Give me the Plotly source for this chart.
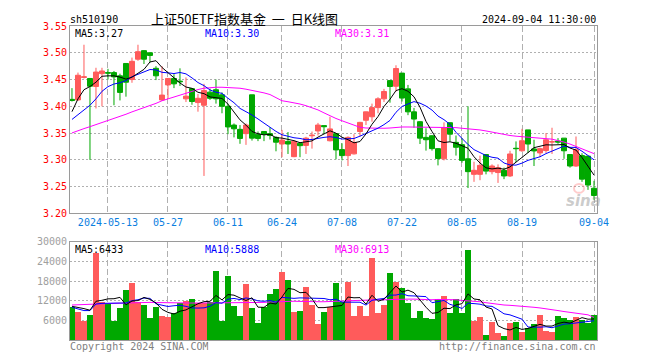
import plotly.graph_objects as go

dates = [
    "2024-04-30",
    "2024-05-06", "2024-05-07", "2024-05-08", "2024-05-09", "2024-05-10",
    "2024-05-13", "2024-05-14", "2024-05-15", "2024-05-16", "2024-05-17",
    "2024-05-20", "2024-05-21", "2024-05-22", "2024-05-23", "2024-05-24",
    "2024-05-27", "2024-05-28", "2024-05-29", "2024-05-30", "2024-05-31",
    "2024-06-03", "2024-06-04", "2024-06-05", "2024-06-06", "2024-06-07",
    "2024-06-11", "2024-06-12", "2024-06-13", "2024-06-14",
    "2024-06-17", "2024-06-18", "2024-06-19", "2024-06-20", "2024-06-21",
    "2024-06-24", "2024-06-25", "2024-06-26", "2024-06-27", "2024-06-28",
    "2024-07-01", "2024-07-02", "2024-07-03", "2024-07-04", "2024-07-05",
    "2024-07-08", "2024-07-09", "2024-07-10", "2024-07-11", "2024-07-12",
    "2024-07-15", "2024-07-16", "2024-07-17", "2024-07-18", "2024-07-19",
    "2024-07-22", "2024-07-23", "2024-07-24", "2024-07-25", "2024-07-26",
    "2024-07-29", "2024-07-30", "2024-07-31", "2024-08-01", "2024-08-02",
    "2024-08-05", "2024-08-06", "2024-08-07", "2024-08-08", "2024-08-09",
    "2024-08-12", "2024-08-13", "2024-08-14", "2024-08-15", "2024-08-16",
    "2024-08-19", "2024-08-20", "2024-08-21", "2024-08-22", "2024-08-23",
    "2024-08-26", "2024-08-27", "2024-08-28", "2024-08-29", "2024-08-30",
    "2024-09-02", "2024-09-03", "2024-09-04",
]

opens = [
    3.413, 3.412, 3.454, 3.452, 3.437, 3.461, 3.463, 3.463, 3.457, 3.480,
    3.450, 3.488, 3.504, 3.500, 3.471, 3.412, 3.440, 3.452, 3.447, 3.414,
    3.433, 3.407, 3.402, 3.4265, 3.431, 3.4215, 3.400, 3.365, 3.357, 3.349,
    3.4215, 3.348, 3.353, 3.349, 3.342, 3.3296, 3.3345, 3.306, 3.331, 3.327,
    3.345, 3.354, 3.364, 3.3357, 3.349, 3.3192, 3.308, 3.3112, 3.353, 3.374,
    3.3805, 3.3976, 3.414, 3.448, 3.4375, 3.462, 3.4326, 3.3897, 3.3713, 3.342,
    3.345, 3.321, 3.302, 3.3694, 3.3327, 3.3284, 3.302, 3.273, 3.273, 3.310,
    3.278, 3.2763, 3.2805, 3.270, 3.3217, 3.317, 3.356, 3.3204, 3.313, 3.3174,
    3.3333, 3.335, 3.3406, 3.310, 3.2885, 3.308, 3.307, 3.247,
]
highs = [
    3.434, 3.463, 3.515, 3.453, 3.472, 3.472, 3.470, 3.466, 3.461, 3.480,
    3.491, 3.515, 3.505, 3.501, 3.475, 3.475, 3.453, 3.460, 3.471, 3.454,
    3.433, 3.423, 3.442, 3.433, 3.450, 3.426, 3.405, 3.368, 3.365, 3.368,
    3.4215, 3.353, 3.353, 3.361, 3.344, 3.356, 3.352, 3.336, 3.331, 3.343,
    3.353, 3.369, 3.364, 3.3805, 3.349, 3.331, 3.344, 3.348, 3.371, 3.390,
    3.405, 3.417, 3.4326, 3.449, 3.4767, 3.462, 3.440, 3.397, 3.372, 3.359,
    3.346, 3.322, 3.370, 3.370, 3.3455, 3.3406, 3.400, 3.2965, 3.308, 3.311,
    3.2916, 3.2916, 3.2855, 3.317, 3.3345, 3.358, 3.356, 3.3376, 3.323, 3.350,
    3.360, 3.3406, 3.3406, 3.310, 3.3437, 3.3125, 3.307, 3.2609,
]
lows = [
    3.409, 3.410, 3.452, 3.300, 3.396, 3.400, 3.450, 3.402, 3.411, 3.418,
    3.444, 3.485, 3.479, 3.482, 3.449, 3.410, 3.414, 3.434, 3.438, 3.408,
    3.403, 3.390, 3.270, 3.412, 3.405, 3.387, 3.348, 3.342, 3.330, 3.328,
    3.336, 3.335, 3.335, 3.338, 3.316, 3.305, 3.311, 3.305, 3.305, 3.311,
    3.321, 3.3455, 3.348, 3.3345, 3.301, 3.299, 3.2885, 3.310, 3.3437, 3.365,
    3.3713, 3.387, 3.408, 3.4068, 3.4277, 3.409, 3.3835, 3.360, 3.3296, 3.3173,
    3.3173, 3.2897, 3.299, 3.3345, 3.308, 3.2947, 3.2474, 3.259, 3.262, 3.273,
    3.273, 3.257, 3.264, 3.268, 3.296, 3.315, 3.313, 3.2885, 3.305, 3.313,
    3.311, 3.330, 3.302, 3.2855, 3.287, 3.259, 3.244, 3.2254,
]
closes = [
    3.411, 3.458, 3.455, 3.4375, 3.464, 3.466, 3.462, 3.455, 3.426, 3.445,
    3.484, 3.502, 3.488, 3.495, 3.457, 3.421, 3.452, 3.442, 3.446, 3.419,
    3.409, 3.415, 3.4295, 3.415, 3.414, 3.400, 3.3615, 3.358, 3.340, 3.365,
    3.3406, 3.340, 3.348, 3.3455, 3.333, 3.337, 3.3296, 3.3345, 3.3265, 3.3406,
    3.346, 3.365, 3.362, 3.3578, 3.3186, 3.308, 3.342, 3.3327, 3.370, 3.3897,
    3.3976, 3.414, 3.4277, 3.437, 3.4706, 3.4154, 3.3897, 3.3762, 3.3406, 3.3376,
    3.321, 3.3026, 3.360, 3.348, 3.3235, 3.299, 3.278, 3.2805, 3.2897, 3.279,
    3.2885, 3.2855, 3.270, 3.311, 3.321, 3.3357, 3.3296, 3.3167, 3.321, 3.3376,
    3.3339, 3.3333, 3.317, 3.2885, 3.319, 3.264, 3.253, 3.2335,
]

ma5 = [
    3.390, 3.414, 3.431, 3.437, 3.4451, 3.4561, 3.4569, 3.4569, 3.4546, 3.4508,
    3.4544, 3.4624, 3.469, 3.4828, 3.4852, 3.4726, 3.4626, 3.4534, 3.4436, 3.436,
    3.4336, 3.4262, 3.4237, 3.4175, 3.4165, 3.4147, 3.404, 3.3897, 3.3747, 3.3649,
    3.353, 3.3487, 3.3467, 3.3478, 3.3414, 3.3407, 3.3386, 3.3359, 3.3321, 3.3336,
    3.3354, 3.3425, 3.348, 3.3543, 3.3499, 3.3423, 3.3377, 3.3318, 3.3343, 3.3485,
    3.3664, 3.3808, 3.3998, 3.4132, 3.4294, 3.4329, 3.4281, 3.4178, 3.3985, 3.3719,
    3.353, 3.3356, 3.3324, 3.3338, 3.331, 3.3266, 3.3217, 3.3058, 3.2941, 3.2852,
    3.2831, 3.2846, 3.2825, 3.2868, 3.2952, 3.3046, 3.3135, 3.3228, 3.3248, 3.3281,
    3.3278, 3.3285, 3.3286, 3.3221, 3.3183, 3.3044, 3.2883, 3.2716,
]
ma10 = [
    3.3755, 3.384, 3.394, 3.402, 3.414, 3.428, 3.4367, 3.4417, 3.444, 3.448,
    3.4553, 3.4597, 3.463, 3.4687, 3.468, 3.4635, 3.4625, 3.4612, 3.4632, 3.4606,
    3.4531, 3.4444, 3.4386, 3.4306, 3.4263, 3.4242, 3.4151, 3.4067, 3.3961, 3.3907,
    3.3839, 3.3764, 3.3682, 3.3613, 3.3532, 3.3469, 3.3437, 3.3413, 3.340, 3.3375,
    3.3381, 3.3406, 3.342, 3.3432, 3.3418, 3.3389, 3.3401, 3.3399, 3.3443, 3.3492,
    3.3543, 3.3592, 3.3658, 3.3737, 3.3889, 3.3997, 3.4044, 3.4088, 3.4059, 3.4006,
    3.393, 3.3818, 3.3751, 3.3662, 3.3515, 3.3398, 3.3287, 3.3191, 3.314, 3.3081,
    3.3049, 3.3032, 3.2942, 3.2905, 3.2902, 3.2939, 3.2991, 3.3027, 3.3058, 3.3117,
    3.3162, 3.321, 3.3257, 3.3234, 3.3232, 3.3161, 3.3084, 3.3001,
]
ma30 = [
    3.3503, 3.3547, 3.3584, 3.362, 3.3657, 3.3694, 3.373, 3.3768, 3.3805, 3.3852,
    3.3896, 3.3933, 3.397, 3.4012, 3.4055, 3.4104, 3.414, 3.4172, 3.4209, 3.4246,
    3.4283, 3.4313, 3.4338, 3.435, 3.4356, 3.4356, 3.435, 3.435, 3.4338, 3.432,
    3.430, 3.4276, 3.4251, 3.422, 3.4167, 3.4104, 3.4086, 3.4067, 3.4043, 3.4012,
    3.3976, 3.3933, 3.3878, 3.3823, 3.3773, 3.373, 3.3687, 3.365, 3.3608, 3.3595,
    3.359, 3.359, 3.359, 3.3595, 3.3608, 3.3614, 3.3614, 3.3614, 3.3614, 3.3614,
    3.3614, 3.3611, 3.3608, 3.3608, 3.3602, 3.359, 3.3584, 3.3571, 3.3559, 3.354,
    3.3516, 3.3497, 3.3473, 3.3455, 3.3442, 3.343, 3.3424, 3.3418, 3.3405, 3.3396,
    3.3387, 3.3363, 3.3332, 3.3295, 3.3253, 3.3209, 3.3161, 3.3117,
]

volumes = [
    10200, 8700, 5800, 7800, 26700, 11700, 10900, 6000, 9900, 15300,
    17400, 11700, 10800, 6900, 10000, 7500, 7000, 8300, 11200, 12000,
    12600, 11300, 11500, 11700, 21000, 5800, 19500, 10500, 7500, 17100,
    9900, 5200, 10200, 14100, 15600, 20700, 18300, 8700, 9000, 16200,
    10800, 4800, 8700, 10200, 17400, 11700, 17700, 7500, 10500, 7500,
    25200, 8400, 10800, 20400, 17700, 15900, 11400, 6900, 9000, 6900,
    6600, 12600, 13500, 8400, 12600, 8400, 27600, 5700, 7200, 1500,
    5400, 2100, 1200, 5100, 5400, 2400, 3600, 4800, 7800, 2700,
    2400, 7500, 6900, 6300, 7200, 6300, 5100, 7800,
]
vol_ma5 = [
    10300, 10000, 9600, 9100, 11840, 12140, 12580, 12620, 13040, 10760,
    11900, 12060, 13020, 12420, 11360, 9380, 8440, 7940, 8800, 9200,
    10220, 11080, 11720, 11820, 13620, 12260, 13900, 13700, 12860, 12080,
    12900, 10040, 9980, 11300, 11000, 13160, 15780, 15480, 14460, 14580,
    12600, 9900, 9900, 10140, 10380, 10560, 13140, 12900, 12960, 10980,
    13680, 11820, 12480, 14460, 16500, 14640, 15240, 14460, 12180, 10020,
    8160, 8400, 9720, 9600, 10740, 11100, 14100, 12540, 12300, 10080,
    9480, 4380, 3480, 3060, 3840, 3240, 3540, 4260, 4800, 4260,
    4260, 5040, 5460, 5160, 6060, 6840, 6360, 6433,
]
vol_ma10 = [
    10000, 9500, 9000, 9000, 11000, 11200, 11300, 11300, 11300, 11300,
    12020, 12320, 12820, 12730, 11060, 10640, 10250, 10480, 10610, 10280,
    9800, 9760, 9830, 10310, 11410, 11240, 12490, 12710, 12340, 12850,
    12580, 11970, 11840, 12080, 11540, 13030, 12910, 12730, 12880, 12790,
    12880, 12840, 12690, 12300, 12480, 11580, 11520, 11400, 11550, 10680,
    12120, 12480, 12690, 13710, 13740, 14160, 13530, 13470, 13320, 13260,
    11400, 11820, 12090, 10890, 10380, 9630, 11250, 11130, 10950, 10410,
    10290, 9240, 8010, 7680, 6960, 6360, 3960, 3870, 3930, 4050,
    3750, 4290, 4860, 4980, 5160, 5550, 5700, 5888,
]
vol_ma30 = [
    10700, 10800, 10900, 11000, 11050, 11100, 11150, 11200, 11250, 11300,
    11350, 11450, 11600, 11500, 11450, 11400, 11300, 11300, 11300, 11300,
    11300, 11300, 11300, 11300, 11300, 11300, 11300, 11400, 11500, 11500,
    11500, 11500, 11500, 11600, 11700, 11800, 11900, 11850, 11800, 11700,
    11700, 11700, 11700, 11700, 11800, 11900, 12000, 12100, 12100, 12200,
    12200, 12300, 12300, 12400, 12500, 12500, 12500, 12500, 12400, 12300,
    12300, 12400, 12400, 12500, 12300, 12100, 12000, 11800, 11700, 11400,
    11100, 10900, 10700, 10600, 10500, 10400, 10200, 10000, 9800, 9600,
    9300, 9000, 8700, 8400, 8200, 8000, 7700, 6913,
]

tick_dates = ["2024-05-13", "2024-05-27", "2024-06-11", "2024-06-24", "2024-07-08",
              "2024-07-22", "2024-08-05", "2024-08-19", "2024-09-04"]
tick_labels = ["2024-05-13", "05-27", "06-11", "06-24", "07-08",
               "07-22", "08-05", "08-19", "09-04"]
price_ticks = [3.20, 3.25, 3.30, 3.35, 3.40, 3.45, 3.50, 3.55]
price_labels = ["3.20", "3.25", "3.30", "3.35", "3.40", "3.45", "3.50", "3.55"]
vol_ticks = [6000, 12000, 18000, 24000, 30000]
vol_labels = ["6000", "12000", "18000", "24000", "30000"]

RED = "#FF5B5B"
GREEN = "#00A800"
MONO = "DejaVu Sans Mono"
GRID = "#b0b0b0"
BORDER = "#9a9a9a"

vol_colors = [RED if c >= o else GREEN for o, c in zip(opens, closes)]

fig = go.Figure()
fig.add_trace(go.Candlestick(
    x=dates, open=opens, high=highs, low=lows, close=closes,
    increasing=dict(line=dict(color=RED, width=1), fillcolor=RED),
    decreasing=dict(line=dict(color=GREEN, width=1), fillcolor=GREEN),
    whiskerwidth=0, xaxis="x", yaxis="y", hoverinfo="skip",
))
for vals, col in ((ma30, "#FF00FF"), (ma10, "#0000FF"), (ma5, "#000000")):
    fig.add_trace(go.Scatter(x=dates, y=vals, mode="lines",
                             line=dict(color=col, width=1),
                             xaxis="x", yaxis="y", hoverinfo="skip"))

fig.add_trace(go.Bar(x=dates, y=volumes, marker=dict(color=vol_colors, line=dict(width=0)),
                     width=0.85, xaxis="x2", yaxis="y2", hoverinfo="skip"))
for vals, col in ((vol_ma30, "#FF00FF"), (vol_ma10, "#0000FF"), (vol_ma5, "#000000")):
    fig.add_trace(go.Scatter(x=dates, y=vals, mode="lines",
                             line=dict(color=col, width=1),
                             xaxis="x2", yaxis="y2", hoverinfo="skip"))

# The page body has an 8px margin, so the figure is drawn 8px right/down.
OFF = 8
FW, FH = 660 - OFF, 360 - OFF
# plot area in screen pixels: x 70..597, y 20..340
SL, SR, ST, SB = 70, 597, 20, 340
PW, PH = SR - SL, SB - ST


def px(x):
    return (x - SL) / PW


def py(y):
    return (SB - y) / PH


xcommon = dict(
    type="category", categoryorder="array", categoryarray=dates,
    range=[-0.33, len(dates) - 0.5],
    tickvals=tick_dates, ticktext=tick_labels,
    showgrid=True, gridcolor=GRID, griddash="6px,3px", gridwidth=1,
    showline=True, linecolor=BORDER, linewidth=1, mirror=True,
    ticks="", zeroline=False, fixedrange=True,
)

fig.update_layout(
    width=FW, height=FH,
    margin=dict(l=SL - OFF, r=FW - (SR - OFF), t=ST - OFF, b=FH - (SB - OFF), pad=0),
    paper_bgcolor="white", plot_bgcolor="white",
    showlegend=False, boxgap=0.17, boxgroupgap=0, bargap=0,
    xaxis=dict(**xcommon, anchor="y", rangeslider=dict(visible=False),
               tickfont=dict(family=MONO, size=10, color="#0a7ee0")),
    xaxis2=dict(**xcommon, anchor="y2", showticklabels=False),
    yaxis=dict(domain=[py(211), 1.0], range=[3.20, 3.55],
               tickvals=price_ticks, ticktext=price_labels,
               tickfont=dict(family=MONO, size=10, color="#FF0000"),
               showgrid=True, gridcolor=GRID, griddash="2px,2px", gridwidth=1,
               showline=True, linecolor=BORDER, linewidth=1, mirror=True,
               ticks="", zeroline=False, fixedrange=True),
    yaxis2=dict(domain=[0.0, py(240)], range=[0, 30000],
                tickvals=vol_ticks, ticktext=vol_labels,
                tickfont=dict(family=MONO, size=10, color="#a0a0a0"),
                showgrid=True, gridcolor=GRID, griddash="2px,2px", gridwidth=1,
                showline=True, linecolor=BORDER, linewidth=1, mirror=True,
                ticks="", zeroline=False, fixedrange=True),
)

ann = []


def add_text(text, x, y, color="#000000", anchor="left", size=10, family=MONO, **kw):
    ann.append(dict(text=text, x=px(x), y=py(y), xref="paper", yref="paper",
                    xanchor=anchor, yanchor="middle", showarrow=False,
                    height=size + 2, valign="middle",
                    font=dict(family=family, size=size, color=color, **kw),
                    borderpad=0))


NB = "\u00a0\u00a0"
add_text("sh510190", 69, 13)
add_text("上证50ETF指数基金" + NB + "一" + NB + "日K线图", 150, 12, size=13,
         family="Noto Sans CJK SC")
add_text("2024-09-04 11:30:00", 597, 13, anchor="right")
add_text("MA5:3.27", 74, 27)
add_text("MA10:3.30", 204, 27, color="#0000FF")
add_text("MA30:3.31", 334, 27, color="#FF00FF")
add_text("MA5:6433", 74, 247)
add_text("MA10:5888", 204, 247, color="#0000FF")
add_text("MA30:6913", 334, 247, color="#FF00FF")
add_text("Copyright 2024 SINA.COM", 69, 346, color="#808080")
add_text("http://finance.sina.com.cn", 597, 346, color="#808080", anchor="right")
add_text("sina", 583, 198, color="rgba(160,160,160,0.55)", anchor="center", size=15,
         family="DejaVu Sans", weight="bold", style="italic")
fig.update_layout(annotations=ann)
fig.add_shape(type="circle", xref="paper", yref="paper",
              x0=px(574), x1=px(584), y0=py(190), y1=py(181),
              line=dict(color="rgba(255,110,110,0.35)", width=2))

fig.write_html("out.html")
